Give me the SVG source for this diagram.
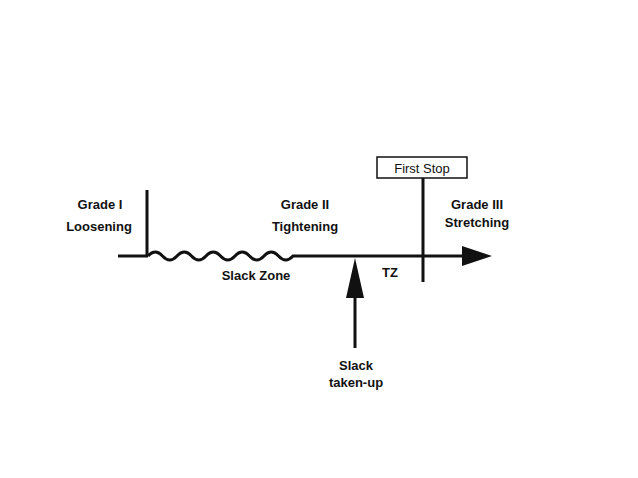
<svg xmlns="http://www.w3.org/2000/svg" width="638" height="478" viewBox="0 0 638 478">
<style>
text{font-family:"Liberation Sans",Arial,sans-serif;font-size:13px;font-weight:bold;fill:#111;text-anchor:middle}
.l{stroke:#111;stroke-width:3;fill:none}
</style>
<rect width="638" height="478" fill="#fff"/>
<g id="connectors">
<path class="l" d="M118 256H148"/>
<path class="l" d="M148 256q7.25 -8 14.5 0t14.5 0q7.25 -8 14.5 0t14.5 0q7.25 -8 14.5 0t14.5 0q7.25 -8 14.5 0t14.5 0q7.25 -8 14.5 0t14.5 0H464"/>
<polygon points="462,246 492,256 462,266" fill="#111"/>
<path class="l" d="M147 190V256"/>
<path class="l" d="M423 178V282"/>
<path class="l" d="M355 292V348"/>
<polygon points="355,258 346,298 364,298" fill="#111"/>
</g>
<g id="grade1"><text x="100" y="209">Grade I</text><text x="99" y="231">Loosening</text></g>
<g id="grade2"><text x="305" y="209">Grade II</text><text x="305" y="231">Tightening</text></g>
<g id="grade3"><text x="477" y="209">Grade III</text><text x="477" y="227">Stretching</text></g>
<g id="slack"><text x="256" y="280">Slack Zone</text></g>
<g id="tz"><text x="390" y="277">TZ</text></g>
<g id="firststop"><rect x="377" y="157" width="90" height="21" fill="#fff" stroke="#111" stroke-width="1.5"/><text x="422" y="173" style="font-weight:normal">First Stop</text></g>
<g id="taken"><text x="356" y="370">Slack</text><text x="356" y="387">taken-up</text></g>
</svg>
